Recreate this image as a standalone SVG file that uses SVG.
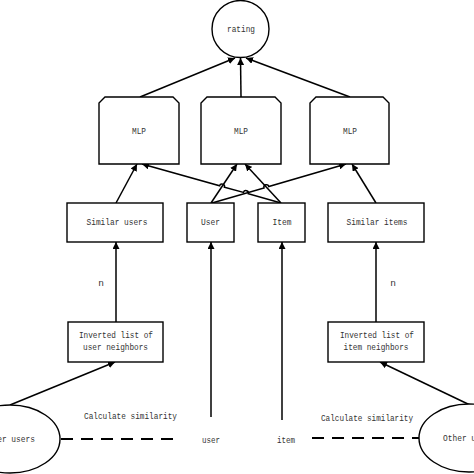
<svg xmlns="http://www.w3.org/2000/svg" width="474" height="474" viewBox="0 0 474 474">
<style>
.s{fill:#fff;stroke:#000;stroke-width:1.4}
.t{font-family:"Liberation Mono","DejaVu Sans Mono",monospace;font-size:9.5px;fill:#333;text-anchor:middle;dominant-baseline:central}
.c{fill:none;stroke:#000;stroke-width:1.5}
.d{fill:none;stroke:#000;stroke-width:2;stroke-dasharray:12 8}
</style>
<defs>
<marker id="ah" viewBox="0 0 10 10" refX="10" refY="5" markerWidth="7" markerHeight="7" markerUnits="userSpaceOnUse" orient="auto">
<path d="M0,0 L10,5 L0,10 Z" fill="#000"/>
</marker>
</defs>
<rect width="474" height="474" fill="#fff"/>
<g id="connectors">
<line class="c" x1="140" y1="97" x2="235" y2="58" marker-end="url(#ah)" style="marker-end:url(#ah)"/>
<line class="c" x1="241" y1="97" x2="240.5" y2="58" marker-end="url(#ah)"/>
<line class="c" x1="350" y1="97" x2="246" y2="58" marker-end="url(#ah)"/>
<line class="c" x1="116" y1="203" x2="137" y2="164" marker-end="url(#ah)"/>
<path class="c" d="M281,203 L248.3,193.8 A2.5,2.5 0 0 0 243.5,192.4 L224.4,187.2 A2.5,2.5 0 0 0 219.6,185.8 L142,164" marker-end="url(#ah)"/>
<line class="c" x1="211" y1="203" x2="237" y2="164" marker-end="url(#ah)"/>
<line class="c" x1="281" y1="203" x2="245" y2="164" marker-end="url(#ah)"/>
<path class="c" d="M212,203 L264,187.9 A2.5,2.5 0 0 1 268.8,186.5 L346,164" marker-end="url(#ah)"/>
<line class="c" x1="376" y1="203" x2="352" y2="164" marker-end="url(#ah)"/>
<line class="c" x1="116" y1="322" x2="116" y2="242" marker-end="url(#ah)"/>
<line class="c" x1="376" y1="322" x2="376" y2="242" marker-end="url(#ah)"/>
<line class="c" x1="211" y1="417" x2="211" y2="242" marker-end="url(#ah)"/>
<line class="c" x1="282" y1="420" x2="282" y2="242" marker-end="url(#ah)"/>
<line class="c" x1="10" y1="405" x2="115" y2="362" marker-end="url(#ah)"/>
<line class="c" x1="470" y1="405" x2="380" y2="362" marker-end="url(#ah)"/>
<line class="d" x1="61" y1="439" x2="179" y2="439"/>
<line class="d" x1="312" y1="438" x2="419" y2="438"/>
</g>
<g id="rating">
<circle class="s" cx="240.5" cy="29" r="28.5"/>
<text class="t" x="241" y="29" textLength="28" lengthAdjust="spacingAndGlyphs">rating</text>
</g>
<g id="mlp1">
<path class="s" d="M99,164 V103 L105,97 H173 L179,103 V164 Z"/>
<text class="t" x="139" y="131" textLength="14" lengthAdjust="spacingAndGlyphs">MLP</text>
</g>
<g id="mlp2">
<path class="s" d="M201,164 V103 L207,97 H275 L281,103 V164 Z"/>
<text class="t" x="241" y="131" textLength="14" lengthAdjust="spacingAndGlyphs">MLP</text>
</g>
<g id="mlp3">
<path class="s" d="M310,164 V103 L316,97 H383 L389,103 V164 Z"/>
<text class="t" x="350" y="131" textLength="14" lengthAdjust="spacingAndGlyphs">MLP</text>
</g>
<g id="similar-users">
<rect class="s" x="67" y="203" width="96" height="39"/>
<text class="t" x="117" y="222.5" textLength="61" lengthAdjust="spacingAndGlyphs">Similar users</text>
</g>
<g id="user">
<rect class="s" x="187" y="203" width="47" height="39"/>
<text class="t" x="210.5" y="222.5" textLength="19" lengthAdjust="spacingAndGlyphs">User</text>
</g>
<g id="item">
<rect class="s" x="258" y="203" width="47" height="39"/>
<text class="t" x="282" y="222.5" textLength="19" lengthAdjust="spacingAndGlyphs">Item</text>
</g>
<g id="similar-items">
<rect class="s" x="328" y="203" width="96" height="39"/>
<text class="t" x="377" y="222.5" textLength="61" lengthAdjust="spacingAndGlyphs">Similar items</text>
</g>
<g id="label-n-left"><text class="t" x="101" y="283">n</text></g>
<g id="label-n-right"><text class="t" x="393" y="283">n</text></g>
<g id="inv-user">
<rect class="s" x="68" y="322" width="95" height="40"/>
<text class="t" x="116" y="335.5" textLength="74" lengthAdjust="spacingAndGlyphs">Inverted list of</text>
<text class="t" x="115.5" y="347" textLength="65" lengthAdjust="spacingAndGlyphs">user neighbors</text>
</g>
<g id="inv-item">
<rect class="s" x="328" y="322" width="96" height="40"/>
<text class="t" x="377" y="335.5" textLength="74" lengthAdjust="spacingAndGlyphs">Inverted list of</text>
<text class="t" x="376" y="347" textLength="65" lengthAdjust="spacingAndGlyphs">item neighbors</text>
</g>
<g id="other-users-left">
<ellipse class="s" cx="10" cy="439" rx="50" ry="34"/>
<text class="t" x="9" y="439.5" textLength="52" lengthAdjust="spacingAndGlyphs">Other users</text>
</g>
<g id="other-users-right">
<ellipse class="s" cx="469" cy="438" rx="50" ry="34"/>
<text class="t" x="469" y="438.5" textLength="52" lengthAdjust="spacingAndGlyphs">Other users</text>
</g>
<g id="labels">
<text class="t" x="130.5" y="416.5" textLength="93" lengthAdjust="spacingAndGlyphs">Calculate similarity</text>
<text class="t" x="367" y="418" textLength="92" lengthAdjust="spacingAndGlyphs">Calculate similarity</text>
<text class="t" x="211" y="440" textLength="18" lengthAdjust="spacingAndGlyphs">user</text>
<text class="t" x="286" y="440" textLength="18" lengthAdjust="spacingAndGlyphs">item</text>
</g>
</svg>
